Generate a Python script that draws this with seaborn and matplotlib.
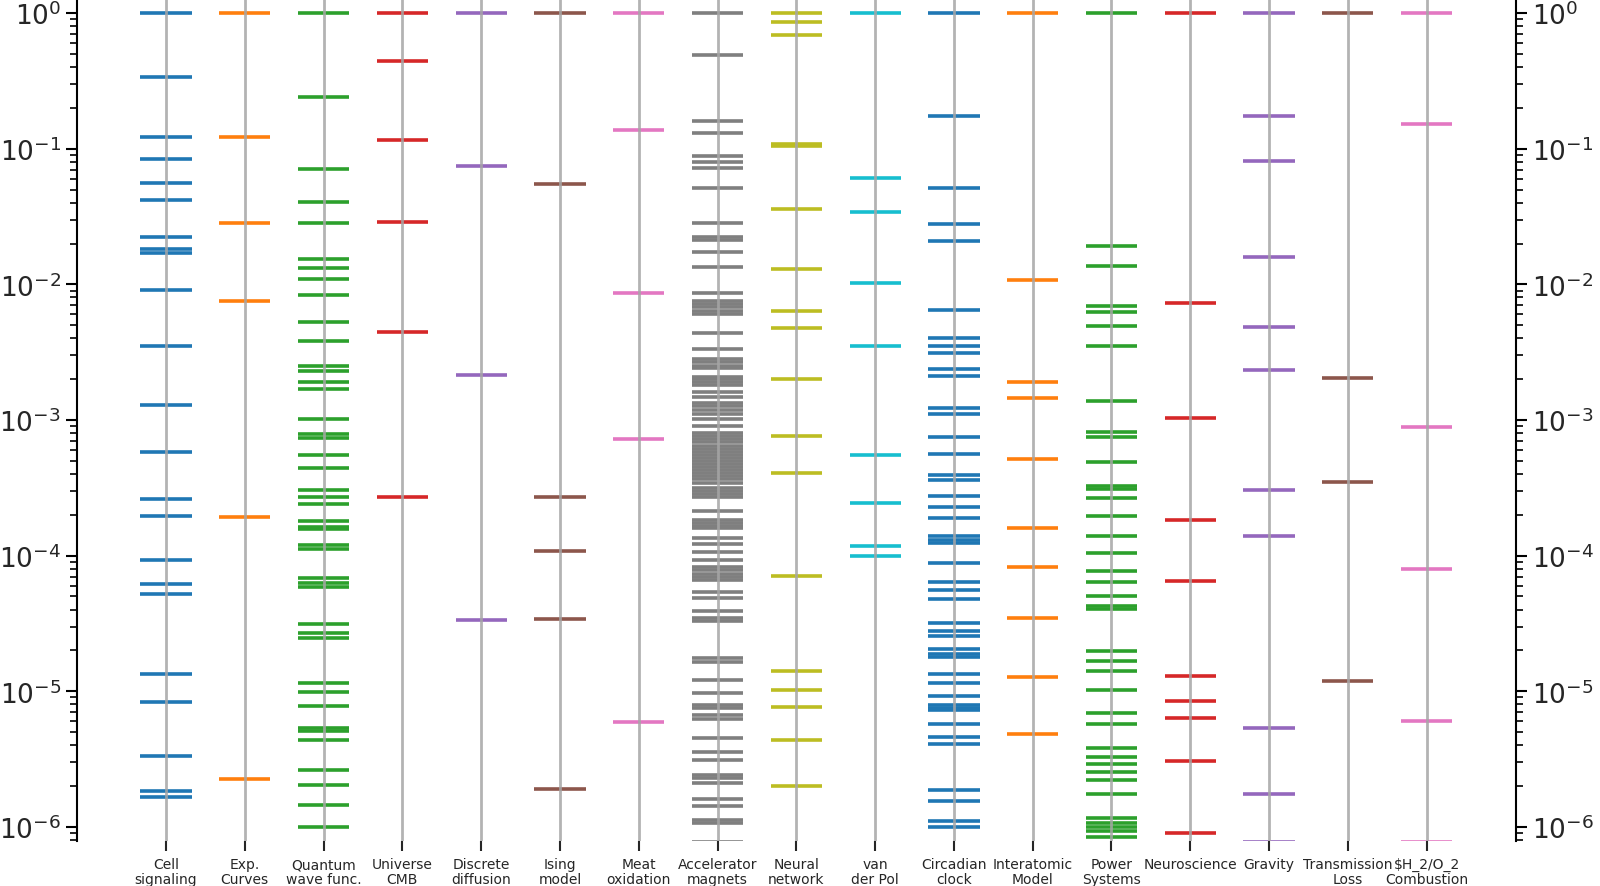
import matplotlib
matplotlib.use('Agg')
import matplotlib.pyplot as plt
import seaborn as sns
import pandas as pd

# ── 데이터: 각 모델의 고유값 스펙트럼 (최대값 1로 정규화) ─────────────
LABELS = ['Cell\nsignaling', 'Exp.\nCurves', 'Quantum\nwave func.', 'Universe\nCMB',
          'Discrete\ndiffusion', 'Ising\nmodel', 'Meat\noxidation', 'Accelerator\nmagnets',
          'Neural\nnetwork', 'van\nder Pol', 'Circadian\nclock', 'Interatomic\nModel',
          'Power\nSystems', 'Neuroscience', 'Gravity', 'Transmission\nLoss',
          '$H_2/O_2\nCombustion']

cell_signaling = [1.0, 0.335, 0.123, 0.0843, 0.0563, 0.0422, 0.0225, 0.0182, 0.0170,
                  0.0091, 0.00354, 0.0013, 5.85e-4, 2.62e-4, 1.96e-4, 9.25e-5, 6.18e-5,
                  5.25e-5, 1.34e-5, 8.38e-6, 3.32e-6, 1.85e-6, 1.65e-6]
exp_curves = [1.0, 0.122, 0.0281, 0.00752, 1.91e-4, 2.24e-6]
quantum_wave = [1.0, 0.241, 0.0714, 0.0404, 0.0284, 0.01535, 0.01324, 0.01097, 0.00841,
                0.00526, 0.00385, 0.00252, 0.00231, 0.00192, 0.0017, 0.00101, 7.9e-4,
                7.34e-4, 5.5e-4, 4.46e-4, 3.07e-4, 2.72e-4, 2.42e-4, 1.81e-4, 1.63e-4,
                1.56e-4, 1.19e-4, 1.12e-4, 6.81e-5, 6.3e-5, 5.85e-5, 3.15e-5, 2.68e-5,
                2.46e-5, 1.15e-5, 9.93e-6, 7.8e-6, 5.36e-6, 5.09e-6, 4.37e-6, 2.61e-6,
                2.05e-6, 1.44e-6, 1.0e-6]
universe_cmb = [1.0, 0.445, 0.115, 0.0289, 0.00447, 2.7e-4]
discrete_diffusion = [1.0, 0.0744, 0.00216, 3.37e-5]
ising_model = [1.0, 0.0548, 2.72e-4, 1.08e-4, 3.4e-5, 1.9e-6]
meat_oxidation = [1.0, 0.137, 0.0086, 7.26e-4, 5.97e-6]
accelerator = [1.0, 0.49, 0.16, 0.131, 0.0882, 0.0797, 0.0719, 0.0509, 0.0283, 0.0225,
               0.0213, 0.01746, 0.01345, 0.0087, 0.0076, 0.00718, 0.00678, 0.00641,
               0.00603, 0.00439, 0.00333, 0.00282, 0.00267, 0.00252, 0.00242, 0.00209,
               0.00199, 0.00189, 0.00181, 0.00162, 0.00148, 0.00133, 0.00126, 0.00119,
               0.00111, 0.00102, 9.0e-4, 8.0e-4, 7.6e-4, 7.26e-4, 6.9e-4, 6.44e-4,
               6.12e-4, 5.82e-4, 5.53e-4, 5.25e-4, 4.99e-4, 4.74e-4, 4.51e-4, 4.28e-4,
               4.07e-4, 3.87e-4, 3.68e-4, 3.44e-4, 3.16e-4, 3.0e-4, 2.85e-4, 2.69e-4,
               2.12e-4, 1.83e-4, 1.74e-4, 1.66e-4, 1.61e-4, 1.36e-4, 1.21e-4, 1.07e-4,
               9.35e-5, 8.26e-5, 7.85e-5, 7.27e-5, 6.91e-5, 6.56e-5, 5.37e-5, 4.85e-5,
               3.93e-5, 3.47e-5, 3.3e-5, 1.77e-5, 1.64e-5, 1.21e-5, 9.66e-6, 7.92e-6,
               7.47e-6, 6.71e-6, 6.22e-6, 4.55e-6, 3.55e-6, 3.13e-6, 2.43e-6, 2.31e-6,
               2.11e-6, 1.61e-6, 1.43e-6, 1.12e-6, 1.06e-6, 7.8e-7]
neural_network = [1.0, 0.853, 0.684, 0.109, 0.105, 0.0362, 0.013, 0.00641, 0.00475,
                  0.00202, 7.6e-4, 4.09e-4, 7.13e-5, 1.4e-5, 1.03e-5, 7.66e-6, 4.38e-6,
                  1.99e-6]
van_der_pol = [1.0, 0.0613, 0.0344, 0.0103, 0.00354, 5.5e-4, 2.46e-4, 1.17e-4, 9.9e-5]
circadian_clock = [1.0, 0.175, 0.0515, 0.0278, 0.0209, 0.00652, 0.00405, 0.0035, 0.00312,
                   0.00237, 0.0021, 0.00122, 0.0011, 7.47e-4, 5.62e-4, 3.94e-4, 3.61e-4,
                   2.75e-4, 2.3e-4, 1.89e-4, 1.39e-4, 1.31e-4, 1.23e-4, 8.88e-5, 6.43e-5,
                   5.58e-5, 4.82e-5, 3.21e-5, 2.8e-5, 2.56e-5, 2.05e-5, 1.87e-5, 1.78e-5,
                   1.33e-5, 1.16e-5, 9.18e-6, 7.89e-6, 7.57e-6, 7.28e-6, 5.77e-6, 4.62e-6,
                   4.08e-6, 1.88e-6, 1.55e-6, 1.11e-6, 1.0e-6]
interatomic = [1.0, 0.0108, 0.00189, 0.00146, 5.19e-4, 1.6e-4, 8.26e-5, 3.47e-5,
               1.27e-5, 4.84e-6]
power_systems = [1.0, 0.0192, 0.0136, 0.00698, 0.0063, 0.00489, 0.00352, 0.00138,
                 8.17e-4, 7.47e-4, 4.91e-4, 3.28e-4, 3.09e-4, 2.68e-4, 1.97e-4, 1.4e-4,
                 1.04e-4, 7.67e-5, 6.37e-5, 5.07e-5, 4.22e-5, 4.01e-5, 1.99e-5, 1.68e-5,
                 1.41e-5, 1.02e-5, 6.89e-6, 5.71e-6, 3.82e-6, 3.28e-6, 2.91e-6, 2.53e-6,
                 2.23e-6, 1.74e-6, 1.17e-6, 1.06e-6, 9.93e-7, 9.29e-7, 8.47e-7]
neuroscience = [1.0, 0.00731, 0.00104, 1.83e-4, 6.5e-5, 1.3e-5, 8.53e-6, 6.35e-6,
                3.06e-6, 9.06e-7]
gravity = [1.0, 0.175, 0.0805, 0.0159, 0.00483, 0.00233, 3.05e-4, 1.4e-4, 5.36e-6,
           1.74e-6, 7.8e-7]
transmission_loss = [1.0, 0.00203, 3.5e-4, 1.2e-5]
h2o2_combustion = [1.0, 0.151, 8.85e-4, 7.94e-5, 6.07e-6, 7.8e-7]

SPECTRA = [cell_signaling, exp_curves, quantum_wave, universe_cmb, discrete_diffusion,
           ising_model, meat_oxidation, accelerator, neural_network, van_der_pol,
           circadian_clock, interatomic, power_systems, neuroscience, gravity,
           transmission_loss, h2o2_combustion]

HALF_WIDTH = 0.325

df = pd.concat([pd.DataFrame({'model': i, 'eig': vals}) for i, vals in enumerate(SPECTRA)],
               ignore_index=True)

sns.set_style('ticks')
plt.rcParams['font.family'] = ['DejaVu Sans']
palette = sns.color_palette('tab10', 10)

fig = plt.figure(figsize=(16, 8.87), dpi=100)
ax = fig.add_axes([0.0481, 0.0504, 0.8992, 0.9496])

for i, grp in df.groupby('model'):
    ax.hlines(grp['eig'], i - HALF_WIDTH, i + HALF_WIDTH,
              color=palette[i % 10], lw=2.6, zorder=2)
    # 세로 기준선은 막대 위에 반투명하게
    ax.axvline(i, color='#a6a6a6', lw=2, alpha=0.85, zorder=3)

ax.set_yscale('log')
ax.set_ylim(7.83e-7, 1.27)
ax.set_xlim(-1.13, len(SPECTRA) - 1 + 1.13)
ax.set_xticks(range(len(SPECTRA)))
ax.set_xticklabels(LABELS, fontsize=10, linespacing=1.05)

ax.tick_params(axis='y', which='both', left=True, right=True, labelright=True,
               labelsize=19, color='black')
ax.tick_params(axis='y', which='major', length=8, width=1.5)
ax.tick_params(axis='y', which='minor', length=5, width=1.2)
ax.tick_params(axis='x', length=7, width=1.5, pad=4.5)

sns.despine(ax=ax, top=True, bottom=True, left=False, right=False)
for side in ['left', 'right']:
    ax.spines[side].set_linewidth(1.5)
    ax.spines[side].set_color('black')

fig.savefig('out.png', dpi=100)
